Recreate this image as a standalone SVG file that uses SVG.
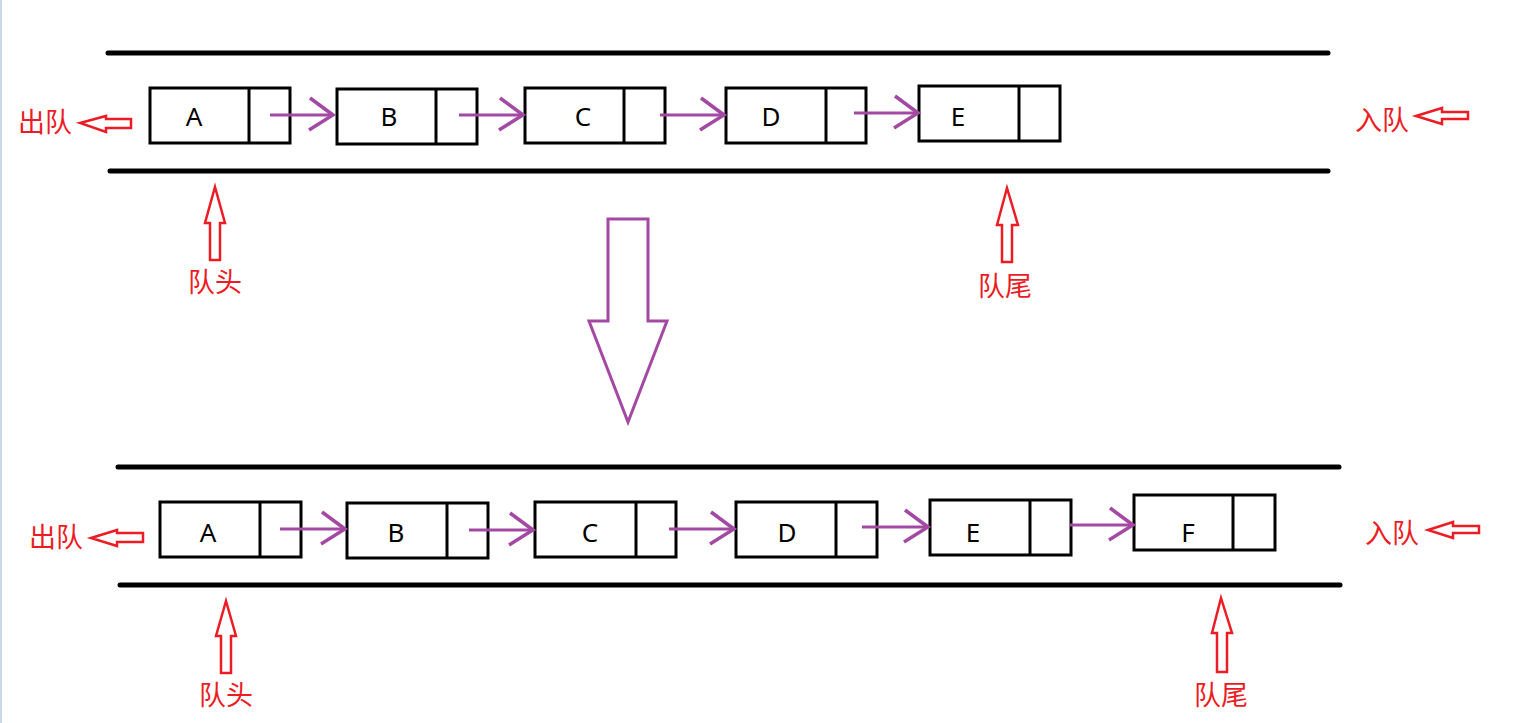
<svg xmlns="http://www.w3.org/2000/svg" width="1516" height="723" viewBox="0 0 1516 723">
<style>
.rail{stroke:#000;stroke-width:5;stroke-linecap:round}
.box{fill:#fff;stroke:#000;stroke-width:3}
.div{stroke:#000;stroke-width:3}
.lbl{font-family:"Noto Sans","Open Sans",sans-serif;font-size:26px;fill:#000;text-anchor:middle;dominant-baseline:central}
.cn{font-family:"Noto Sans CJK SC",sans-serif;font-size:27px;fill:#ED1C24;text-anchor:middle;dominant-baseline:central}
.red{fill:#fff;stroke:#ED1C24;stroke-width:2.5;stroke-linejoin:miter}
.link{stroke:#A349A4;stroke-width:3;fill:none;marker-end:url(#chev)}
</style>
<defs>
<marker id="chev" markerUnits="userSpaceOnUse" viewBox="-26 -20 30 40" refX="0" refY="0" markerWidth="30" markerHeight="40" orient="auto">
<path d="M-23,-17 L0,0 L-24,15" fill="none" stroke="#A349A4" stroke-width="3.5"/>
</marker>
</defs>
<rect x="0" y="0" width="1516" height="723" fill="#fff"/>
<line x1="1" y1="0" x2="1" y2="723" stroke="#C8D8EA" stroke-width="2"/>

<g id="rails">
<line class="rail" x1="108" y1="53" x2="1328" y2="53"/>
<line class="rail" x1="110" y1="171" x2="1328" y2="171"/>
<line class="rail" x1="118" y1="467" x2="1339" y2="467"/>
<line class="rail" x1="120" y1="585" x2="1340" y2="585"/>
</g>

<g id="top-A"><rect class="box" x="150" y="88" width="140" height="55"/><line class="div" x1="249" y1="88" x2="249" y2="143"/><text class="lbl" x="194" y="116">A</text></g>
<g id="top-B"><rect class="box" x="337" y="89" width="140" height="55"/><line class="div" x1="436" y1="89" x2="436" y2="144"/><text class="lbl" x="389" y="116">B</text></g>
<g id="top-C"><rect class="box" x="525" y="88" width="140" height="55"/><line class="div" x1="624" y1="88" x2="624" y2="143"/><text class="lbl" x="583" y="116">C</text></g>
<g id="top-D"><rect class="box" x="726" y="88" width="140" height="55"/><line class="div" x1="826" y1="88" x2="826" y2="143"/><text class="lbl" x="771" y="116">D</text></g>
<g id="top-E"><rect class="box" x="919" y="86" width="141" height="55"/><line class="div" x1="1019" y1="86" x2="1019" y2="141"/><text class="lbl" x="958" y="116">E</text></g>

<g id="bot-A"><rect class="box" x="160" y="502" width="141" height="55"/><line class="div" x1="260" y1="502" x2="260" y2="557"/><text class="lbl" x="208" y="532">A</text></g>
<g id="bot-B"><rect class="box" x="347" y="503" width="141" height="55"/><line class="div" x1="447" y1="503" x2="447" y2="558"/><text class="lbl" x="396" y="532">B</text></g>
<g id="bot-C"><rect class="box" x="535" y="502" width="141" height="55"/><line class="div" x1="636" y1="502" x2="636" y2="557"/><text class="lbl" x="590" y="532">C</text></g>
<g id="bot-D"><rect class="box" x="736" y="502" width="141" height="55"/><line class="div" x1="836" y1="502" x2="836" y2="557"/><text class="lbl" x="787" y="532">D</text></g>
<g id="bot-E"><rect class="box" x="930" y="500" width="141" height="55"/><line class="div" x1="1030" y1="500" x2="1030" y2="555"/><text class="lbl" x="973" y="532">E</text></g>
<g id="bot-F"><rect class="box" x="1134" y="495" width="141" height="55"/><line class="div" x1="1233" y1="495" x2="1233" y2="550"/><text class="lbl" x="1188" y="532">F</text></g>

<g id="connectors">
<line class="link" x1="270" y1="115" x2="333" y2="115"/>
<line class="link" x1="459" y1="115" x2="523" y2="115"/>
<line class="link" x1="660" y1="115" x2="724" y2="115"/>
<line class="link" x1="854" y1="113" x2="918" y2="113"/>
<line class="link" x1="280" y1="529" x2="345" y2="529"/>
<line class="link" x1="469" y1="530" x2="533" y2="530"/>
<line class="link" x1="669" y1="529" x2="734" y2="529"/>
<line class="link" x1="862" y1="527" x2="928" y2="527"/>
<line class="link" x1="1070" y1="525" x2="1133" y2="525"/>
<path id="big-down" d="M608,219 L648,219 L648,321 L667,321 L628,422 L589,321 L608,321 Z" fill="none" stroke="#A349A4" stroke-width="3"/>
</g>

<g id="top-dequeue">
<text class="cn" x="45" y="120">出队</text>
<path class="red" d="M80,123 L106,116 L106,119 L131,119 L131,128 L106,128 L106,132 Z"/>
</g>
<g id="top-enqueue">
<text class="cn" x="1382" y="118">入队</text>
<path class="red" d="M1416,116 L1442,108 L1442,112 L1468,112 L1468,119 L1442,119 L1442,124 Z"/>
</g>
<g id="top-head">
<path class="red" d="M215,187 L225,223 L220,223 L220,260 L210,260 L210,223 L205,223 Z"/>
<text class="cn" x="215" y="280">队头</text>
</g>
<g id="top-tail">
<path class="red" d="M1007,188 L1018,225 L1012,225 L1012,262 L1002,262 L1002,225 L997,225 Z"/>
<text class="cn" x="1005" y="284">队尾</text>
</g>

<g id="bot-dequeue">
<text class="cn" x="56" y="535">出队</text>
<path class="red" d="M91,538 L117,530 L117,533 L143,533 L143,542 L117,542 L117,546 Z"/>
</g>
<g id="bot-enqueue">
<text class="cn" x="1392" y="531">入队</text>
<path class="red" d="M1428,530 L1453,522 L1453,526 L1479,526 L1479,533 L1453,533 L1453,538 Z"/>
</g>
<g id="bot-head">
<path class="red" d="M226,601 L236,636 L231,636 L231,673 L221,673 L221,636 L216,636 Z"/>
<text class="cn" x="226" y="693">队头</text>
</g>
<g id="bot-tail">
<path class="red" d="M1221,598 L1232,633 L1227,633 L1227,672 L1217,672 L1217,633 L1212,633 Z"/>
<text class="cn" x="1221" y="693">队尾</text>
</g>
</svg>
